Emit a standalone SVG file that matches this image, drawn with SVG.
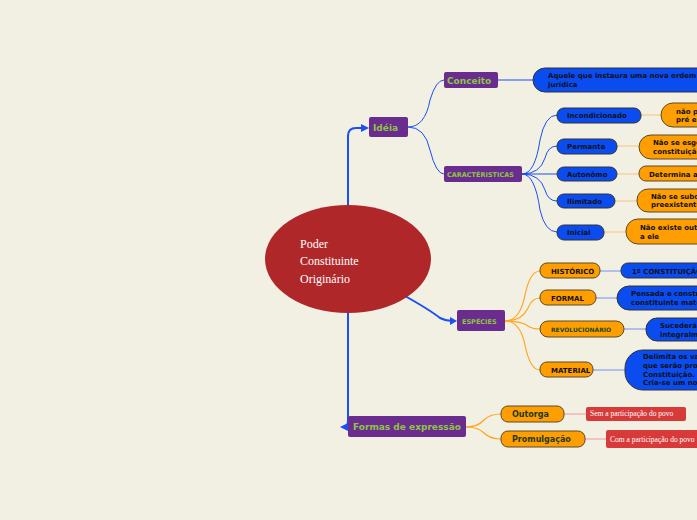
<svg xmlns="http://www.w3.org/2000/svg" width="697" height="520" viewBox="0 0 697 520">
<style>
.t{font-family:"DejaVu Sans",Verdana,sans-serif;font-weight:bold}
.p{fill:#6a2d8f}
.pt{fill:#8dc63f;font-size:9px}
.b{fill:#0a4cf0;stroke:#333;stroke-width:1}
.o{fill:#ff9e00;stroke:#5a4a2a;stroke-width:1}
.bt{fill:#111;font-size:7px}
.ot{fill:#111;font-size:7px}
.r{fill:#d83a3a}
.rt{fill:#fff;font-family:"Liberation Serif",serif;font-size:7.5px}
.cb{fill:none;stroke:#1a4ff5;stroke-width:1}
.cB{fill:none;stroke:#1a4ff5;stroke-width:2}
.co{fill:none;stroke:#ffa520;stroke-width:1.2}
.cl{fill:none;stroke:#f5d39a;stroke-width:1.5}
.cbl{fill:none;stroke:#9ab0f0;stroke-width:1.5}
.cr{fill:none;stroke:#f5b5b5;stroke-width:1.5}
</style>
<rect width="697" height="520" fill="#f2efe3"/>
<g id="connectors">
<path class="cB" d="M348 210 V136 Q348 128 356 128 H366"/>
<polygon points="369,128 361,124 361,132" fill="#1a4ff5"/>
<path class="cB" d="M348 300 V420 Q348 427 344 427"/>
<polygon points="340,427 348,423 348,431" fill="#1a4ff5"/>
<path class="cB" d="M405 296 Q430 310 440 318 Q446 321 452 321"/>
<polygon points="457,321 450,317 450,325" fill="#1a4ff5"/>
<path class="cb" d="M408 127 Q425 127 430 100 Q436 80 444 80"/>
<path class="cb" d="M408 127 Q425 127 430 150 Q436 174 444 174"/>
<path class="cb" d="M498 80 H533"/>
<path class="cb" d="M522 174 Q535 174 540 140 Q545 115 557 115"/>
<path class="cb" d="M522 174 Q540 174 545 158 Q548 146 557 146"/>
<path class="cb" d="M522 174 H557"/>
<path class="cb" d="M522 174 Q540 174 545 190 Q548 201 557 201"/>
<path class="cb" d="M522 174 Q535 174 540 210 Q545 232 557 232"/>
<path class="cl" d="M641 115 H661 M617 146 H639 M617 174 H639 M615 201 H637 M604 232 H626"/>
<path class="co" d="M505 321 Q520 321 525 295 Q530 271 540 271"/>
<path class="co" d="M505 321 Q522 321 528 308 Q532 298 540 298"/>
<path class="co" d="M505 321 Q522 321 528 326 Q532 329 540 329"/>
<path class="co" d="M505 321 Q520 321 525 345 Q530 370 540 370"/>
<path class="cbl" d="M600 271 H621 M596 298 H617 M624 329 H646 M593 370 H625"/>
<path class="co" d="M466 427 Q478 427 484 420 Q490 414 501 414"/>
<path class="co" d="M466 427 Q478 427 484 433 Q490 439 501 439"/>
<path class="cr" d="M564 414 H586 M585 439 H606"/>
</g>
<g id="center"><ellipse cx="348" cy="259" rx="83" ry="54" fill="#b0272a"/>
<text x="300" y="248" fill="#fff" font-family="Liberation Serif,serif" font-size="12">Poder</text>
<text x="300" y="265" fill="#fff" font-family="Liberation Serif,serif" font-size="12">Constituinte</text>
<text x="300" y="283" fill="#fff" font-family="Liberation Serif,serif" font-size="12">Originário</text></g>
<g id="ideia"><rect class="p" x="369" y="117" width="39" height="20" rx="2"/><text class="t pt" x="373" y="131">Idéia</text></g>
<g id="conceito"><rect class="p" x="444" y="72" width="54" height="16" rx="2"/><text class="t pt" x="447" y="84">Conceito</text></g>
<g id="aquele"><rect class="b" x="533" y="68" width="180" height="24" rx="12"/><text class="t bt" x="548" y="78">Aquele que instaura uma nova ordem</text><text class="t bt" x="548" y="87">jurídica</text></g>
<g id="caract"><rect class="p" x="444" y="166" width="78" height="16" rx="2"/><text class="t" x="447" y="177" fill="#8dc63f" font-size="6.5">CARACTÉRISTICAS</text></g>
<g id="incond"><rect class="b" x="557" y="108" width="84" height="15" rx="7"/><text class="t bt" x="567" y="118">Incondicionado</text></g>
<g id="incond2"><rect class="o" x="661" y="103" width="60" height="24" rx="12"/><text class="t ot" x="676" y="114">não pressupõe</text><text class="t ot" x="676" y="122">pré existente</text></g>
<g id="perm"><rect class="b" x="557" y="139" width="60" height="15" rx="7"/><text class="t bt" x="567" y="149">Permante</text></g>
<g id="perm2"><rect class="o" x="639" y="135" width="80" height="24" rx="12"/><text class="t ot" x="653" y="145">Não se esgota na</text><text class="t ot" x="653" y="154">constituição</text></g>
<g id="auto"><rect class="b" x="557" y="167" width="60" height="14" rx="7"/><text class="t bt" x="567" y="177">Autonômo</text></g>
<g id="auto2"><rect class="o" x="639" y="166" width="80" height="15" rx="7"/><text class="t ot" x="649" y="177">Determina a sua</text></g>
<g id="ilim"><rect class="b" x="557" y="194" width="58" height="14" rx="7"/><text class="t bt" x="567" y="204">Ilimitado</text></g>
<g id="ilim2"><rect class="o" x="637" y="189" width="80" height="23" rx="11"/><text class="t ot" x="651" y="199">Não se subordina</text><text class="t ot" x="651" y="207">preexistente</text></g>
<g id="inic"><rect class="b" x="557" y="225" width="47" height="15" rx="7"/><text class="t bt" x="567" y="235">Inicial</text></g>
<g id="inic2"><rect class="o" x="626" y="219" width="90" height="25" rx="12"/><text class="t ot" x="640" y="230">Não existe outro</text><text class="t ot" x="640" y="239">a ele</text></g>
<g id="especies"><rect class="p" x="457" y="310" width="48" height="21" rx="2"/><text class="t" x="462" y="324" fill="#8dc63f" font-size="6.5">ESPÉCIES</text></g>
<g id="hist"><rect class="o" x="540" y="263" width="60" height="15" rx="7"/><text class="t ot" x="551" y="274" font-size="6.5">HISTÓRICO</text></g>
<g id="hist2"><rect class="b" x="621" y="263" width="90" height="15" rx="7"/><text class="t bt" x="632" y="274">1º CONSTITUIÇÃO</text></g>
<g id="formal"><rect class="o" x="540" y="290" width="56" height="15" rx="7"/><text class="t ot" x="551" y="301">FORMAL</text></g>
<g id="formal2"><rect class="b" x="617" y="286" width="95" height="24" rx="12"/><text class="t bt" x="631" y="296">Pensada e construída pelo</text><text class="t bt" x="631" y="305">constituinte material</text></g>
<g id="revol"><rect class="o" x="540" y="321" width="84" height="16" rx="8"/><text class="t" x="551" y="332" fill="#1a4a1a" font-size="6">REVOLUCIONÁRIO</text></g>
<g id="revol2"><rect class="b" x="646" y="318" width="70" height="23" rx="11"/><text class="t bt" x="660" y="328">Sucederá</text><text class="t bt" x="660" y="337">integralmente</text></g>
<g id="mat"><rect class="o" x="540" y="362" width="53" height="15" rx="7"/><text class="t ot" x="551" y="373">MATERIAL</text></g>
<g id="mat2"><rect class="b" x="625" y="350" width="100" height="40" rx="18"/><text class="t bt" x="643" y="359">Delimita os valores</text><text class="t bt" x="643" y="368">que  serão protegidos pela</text><text class="t bt" x="643" y="377">Constituição.</text><text class="t bt" x="643" y="385">Cria-se um novo</text></g>
<g id="formas"><rect class="p" x="348" y="416" width="118" height="21" rx="2"/><text class="t pt" x="353" y="430">Formas de expressão</text></g>
<g id="outorga"><rect class="o" x="501" y="406" width="63" height="16" rx="7"/><text class="t" x="512" y="417" fill="#1a3a1a" font-size="8">Outorga</text></g>
<g id="outorga2"><rect class="r" x="586" y="407" width="100" height="14" rx="2"/><text class="rt" x="590" y="416">Sem a participação do povo</text></g>
<g id="prom"><rect class="o" x="501" y="431" width="84" height="16" rx="7"/><text class="t" x="512" y="442" fill="#1a3a1a" font-size="8">Promulgação</text></g>
<g id="prom2"><rect class="r" x="606" y="430" width="100" height="18" rx="2"/><text class="rt" x="610" y="442">Com a participação do povo</text></g>
</svg>
